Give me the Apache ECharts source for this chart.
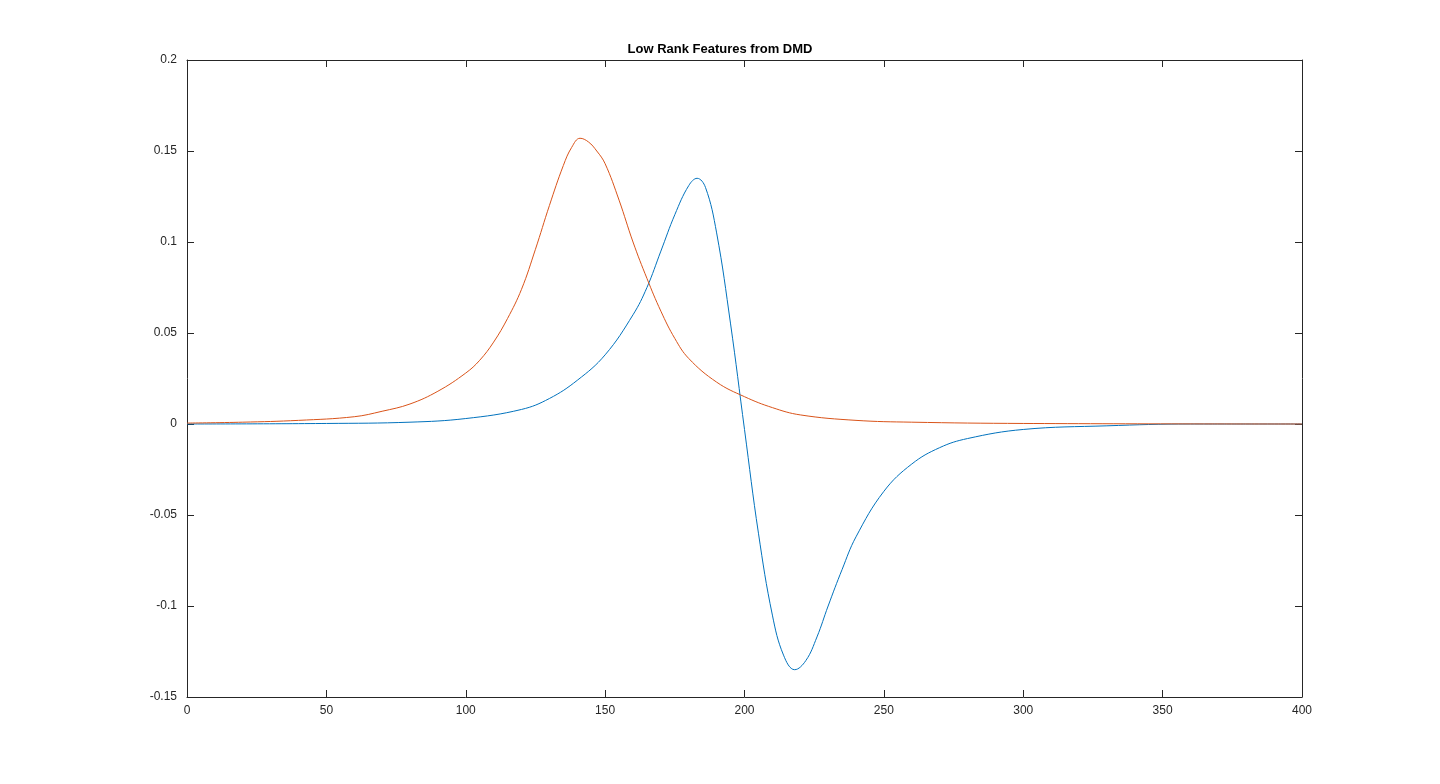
<!DOCTYPE html>
<html>
<head>
<meta charset="utf-8">
<script src="https://cdn.jsdelivr.net/npm/echarts@6/dist/echarts.min.js"></script>
<style>html,body{margin:0;padding:0;background:#fff}#chart{width:1440px;height:784px}</style>
</head>
<body>
<div id="chart"></div>
<script>
// 曲线数据
var orangeX = [0, 20, 40, 60, 70, 80, 90, 100, 105, 110, 115, 120, 125, 130, 135, 138, 141, 144, 147, 150, 155, 160, 165, 170, 175, 180, 190, 200, 210, 220, 240, 260, 300, 400];
var orangeY = [0.0005, 0.001, 0.002, 0.004, 0.007, 0.011, 0.018, 0.028, 0.035, 0.045, 0.058, 0.074, 0.096, 0.12, 0.142, 0.152, 0.157, 0.155, 0.15, 0.143, 0.123, 0.1, 0.08, 0.062, 0.047, 0.036, 0.023, 0.015, 0.009, 0.005, 0.002, 0.001, 0.0003, 0];
var blueX = [0, 50, 80, 100, 120, 130, 140, 150, 160, 165, 170, 175, 180, 183, 186, 190, 195, 200, 205, 210, 214, 218, 222, 226, 230, 235, 240, 250, 260, 270, 280, 300, 330, 360, 400];
var blueY = [0, 0.0003, 0.001, 0.003, 0.008, 0.014, 0.024, 0.038, 0.06, 0.075, 0.095, 0.115, 0.131, 0.135, 0.13, 0.105, 0.055, -0.003, -0.06, -0.105, -0.127, -0.135, -0.13, -0.117, -0.1, -0.08, -0.062, -0.037, -0.022, -0.013, -0.008, -0.003, -0.001, 0, 0];

function zip(xs, ys) {
	var out = [];
	for(var i = 0; i < xs.length; i++) out.push([xs[i], ys[i]]);
	return out;
}

var axisCommon = {
	axisLine: { show: true, onZero: false, lineStyle: { color: '#262626', width: 1 } },
	axisTick: { show: true, inside: true, length: 7, lineStyle: { color: '#262626' } },
	splitLine: { show: false }
};

var myChart = echarts.init(document.getElementById('chart'));
var option = {
	animation: false,
	title: {
		text: 'Low Rank Features from DMD',
		left: 'center',
		top: 38,
		textStyle: { fontFamily: 'Arial', fontSize: 13, fontWeight: 'bold', color: '#000' }
	},
	grid: { left: 187, right: 138, top: 60, bottom: 87 },
	xAxis: [
		Object.assign({ type: 'value', min: 0, max: 400, interval: 50, position: 'bottom',
			axisLabel: { color: '#262626', fontFamily: 'Arial', fontSize: 12, margin: 8 } }, axisCommon),
		Object.assign({ type: 'value', min: 0, max: 400, interval: 50, position: 'top',
			axisLabel: { show: false } }, axisCommon)
	],
	yAxis: [
		Object.assign({ type: 'value', min: -0.15, max: 0.2, interval: 0.05, position: 'left',
			axisLabel: { color: '#262626', fontFamily: 'Arial', fontSize: 12, margin: 10,
				formatter: function(v) { return String(Math.round(v * 100) / 100); } } }, axisCommon),
		Object.assign({ type: 'value', min: -0.15, max: 0.2, interval: 0.05, position: 'right',
			axisLabel: { show: false } }, axisCommon)
	],
	series: [{
			type: 'line',
			data: zip(blueX, blueY),
			smooth: 0.4,
			showSymbol: false,
			lineStyle: { color: '#0072BD', width: 1 }
		},
		{
			type: 'line',
			data: zip(orangeX, orangeY),
			smooth: 0.4,
			showSymbol: false,
			lineStyle: { color: '#D95319', width: 1 }
		}
	]
};
myChart.setOption(option);
</script>
</body>
</html>
